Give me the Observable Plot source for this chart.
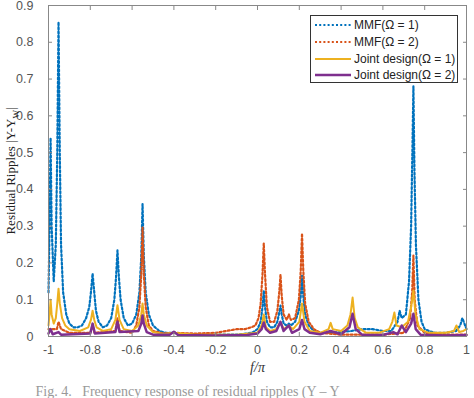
<!DOCTYPE html>
<html>
<head>
<meta charset="utf-8">
<script src="https://cdn.jsdelivr.net/npm/d3@7"></script>
<script src="https://cdn.jsdelivr.net/npm/@observablehq/plot@0.6"></script>
<style>
  html, body { margin: 0; padding: 0; background: #fff; }
  #wrap { position: relative; width: 474px; height: 398px; overflow: hidden; }
  #legend { position: absolute; left: 310px; top: 15px; width: 146px; height: 66px;
    border: 1px solid #333; background: #fff; font-family: Arial, "Liberation Sans", sans-serif;
    font-size: 12px; color: #222; }
  .row { position: absolute; left: 0; height: 16px; display: flex; align-items: center; }
  .row svg { margin-left: 3px; margin-right: 2px; }
</style>
</head>
<body>
<div id="wrap"><div id="chart"></div><div id="legend"></div></div>
<script>
// ---- data ----
const seriesNames = ["MMF(\u03a9 = 1)", "MMF(\u03a9 = 2)", "Joint design(\u03a9 = 1)", "Joint design(\u03a9 = 2)"];
const seriesColors = ["#0072BD", "#D95319", "#EDB120", "#7E2F8E"];

const mmf1X = [-1, -0.995, -0.99, -0.985, -0.975, -0.965, -0.958, -0.952, -0.946, -0.94, -0.93, -0.915, -0.9, -0.88, -0.86, -0.84, -0.82, -0.805, -0.797, -0.789, -0.781, -0.773, -0.76, -0.74, -0.72, -0.70, -0.685, -0.677, -0.67, -0.663, -0.655, -0.64, -0.62, -0.60, -0.58, -0.565, -0.556, -0.55, -0.544, -0.535, -0.52, -0.5, -0.47, -0.44, -0.41, -0.4, -0.39, -0.35, -0.3, -0.25, -0.2, -0.15, -0.1, -0.05, -0.02, 0, 0.015, 0.024, 0.03, 0.036, 0.045, 0.06, 0.08, 0.095, 0.104, 0.11, 0.116, 0.125, 0.14, 0.15, 0.16, 0.18, 0.198, 0.207, 0.213, 0.219, 0.228, 0.245, 0.27, 0.3, 0.35, 0.4, 0.45, 0.5, 0.55, 0.6, 0.64, 0.67, 0.68, 0.69, 0.71, 0.725, 0.735, 0.741, 0.746, 0.751, 0.758, 0.77, 0.785, 0.8, 0.82, 0.85, 0.9, 0.95, 0.97, 0.98, 0.99, 1];
const mmf1Y = [0.12, 0.3, 0.54, 0.3, 0.15, 0.25, 0.5, 0.855, 0.5, 0.25, 0.12, 0.06, 0.035, 0.025, 0.025, 0.03, 0.05, 0.08, 0.12, 0.171, 0.12, 0.07, 0.04, 0.025, 0.03, 0.05, 0.1, 0.16, 0.234, 0.16, 0.1, 0.05, 0.03, 0.035, 0.06, 0.12, 0.22, 0.36, 0.22, 0.12, 0.06, 0.03, 0.015, 0.01, 0.01, 0.012, 0.008, 0.006, 0.006, 0.005, 0.005, 0.005, 0.005, 0.008, 0.012, 0.02, 0.04, 0.08, 0.125, 0.08, 0.04, 0.025, 0.025, 0.04, 0.065, 0.084, 0.06, 0.035, 0.03, 0.035, 0.03, 0.04, 0.07, 0.11, 0.165, 0.11, 0.06, 0.03, 0.015, 0.01, 0.01, 0.012, 0.015, 0.02, 0.02, 0.015, 0.015, 0.04, 0.07, 0.05, 0.06, 0.15, 0.3, 0.5, 0.68, 0.45, 0.25, 0.1, 0.04, 0.02, 0.015, 0.01, 0.01, 0.015, 0.03, 0.05, 0.035, 0.02];

const mmf2X = [-1, -0.96, -0.952, -0.94, -0.9, -0.8, -0.789, -0.78, -0.68, -0.67, -0.66, -0.6, -0.58, -0.565, -0.556, -0.55, -0.544, -0.535, -0.52, -0.5, -0.45, -0.4, -0.3, -0.2, -0.15, -0.1, -0.06, -0.03, -0.01, 0.005, 0.015, 0.024, 0.03, 0.036, 0.045, 0.06, 0.08, 0.095, 0.104, 0.11, 0.116, 0.125, 0.14, 0.15, 0.16, 0.18, 0.198, 0.207, 0.213, 0.219, 0.228, 0.245, 0.27, 0.3, 0.4, 0.5, 0.6, 0.7, 0.73, 0.74, 0.746, 0.752, 0.765, 0.8, 0.9, 1];
const mmf2Y = [0.02, 0.02, 0.04, 0.02, 0.01, 0.01, 0.03, 0.01, 0.015, 0.05, 0.015, 0.01, 0.03, 0.08, 0.17, 0.296, 0.17, 0.08, 0.03, 0.015, 0.008, 0.01, 0.008, 0.01, 0.015, 0.02, 0.02, 0.025, 0.03, 0.05, 0.09, 0.17, 0.253, 0.17, 0.08, 0.04, 0.04, 0.07, 0.12, 0.168, 0.11, 0.06, 0.045, 0.06, 0.045, 0.05, 0.1, 0.18, 0.28, 0.18, 0.09, 0.04, 0.02, 0.01, 0.005, 0.005, 0.005, 0.01, 0.05, 0.12, 0.22, 0.1, 0.03, 0.01, 0.005, 0.005];

const joint1X = [-1, -0.995, -0.99, -0.985, -0.975, -0.965, -0.958, -0.952, -0.946, -0.935, -0.92, -0.9, -0.85, -0.81, -0.797, -0.789, -0.781, -0.77, -0.74, -0.7, -0.68, -0.67, -0.66, -0.64, -0.6, -0.57, -0.556, -0.55, -0.544, -0.53, -0.5, -0.45, -0.4, -0.3, -0.1, 0, 0.02, 0.03, 0.04, 0.06, 0.09, 0.11, 0.125, 0.15, 0.17, 0.2, 0.213, 0.225, 0.25, 0.3, 0.34, 0.35, 0.36, 0.4, 0.43, 0.445, 0.455, 0.465, 0.48, 0.52, 0.58, 0.63, 0.645, 0.655, 0.665, 0.69, 0.72, 0.735, 0.746, 0.756, 0.775, 0.82, 0.9, 0.94, 0.952, 0.965, 0.985, 1];
const joint1Y = [0.03, 0.06, 0.10, 0.06, 0.035, 0.05, 0.09, 0.13, 0.09, 0.05, 0.03, 0.02, 0.015, 0.025, 0.045, 0.07, 0.045, 0.025, 0.015, 0.02, 0.045, 0.085, 0.045, 0.02, 0.015, 0.03, 0.06, 0.09, 0.06, 0.03, 0.012, 0.007, 0.01, 0.005, 0.005, 0.01, 0.03, 0.06, 0.025, 0.015, 0.02, 0.04, 0.02, 0.03, 0.02, 0.04, 0.09, 0.04, 0.015, 0.01, 0.02, 0.037, 0.02, 0.015, 0.03, 0.06, 0.106, 0.05, 0.025, 0.01, 0.01, 0.02, 0.04, 0.065, 0.03, 0.025, 0.04, 0.08, 0.125, 0.06, 0.02, 0.01, 0.01, 0.015, 0.03, 0.012, 0.015, 0.02];

const joint2X = [-1, -0.99, -0.98, -0.952, -0.94, -0.8, -0.789, -0.778, -0.68, -0.67, -0.66, -0.57, -0.556, -0.55, -0.544, -0.53, -0.5, -0.42, -0.4, -0.38, -0.2, -0.05, 0, 0.02, 0.03, 0.04, 0.06, 0.09, 0.11, 0.125, 0.15, 0.165, 0.2, 0.213, 0.225, 0.25, 0.3, 0.35, 0.4, 0.44, 0.455, 0.47, 0.5, 0.6, 0.65, 0.67, 0.69, 0.71, 0.735, 0.746, 0.757, 0.78, 0.9, 1];
const joint2Y = [0.008, 0.02, 0.006, 0.012, 0.005, 0.008, 0.035, 0.008, 0.012, 0.04, 0.012, 0.015, 0.035, 0.057, 0.035, 0.012, 0.005, 0.005, 0.013, 0.004, 0.003, 0.004, 0.008, 0.02, 0.038, 0.02, 0.01, 0.015, 0.04, 0.015, 0.03, 0.01, 0.02, 0.045, 0.02, 0.01, 0.006, 0.015, 0.006, 0.025, 0.062, 0.02, 0.005, 0.004, 0.012, 0.006, 0.03, 0.012, 0.035, 0.062, 0.02, 0.005, 0.003, 0.004];

const xTicks = [-1, -0.8, -0.6, -0.4, -0.2, 0, 0.2, 0.4, 0.6, 0.8, 1];
const yTicks = [0, 0.1, 0.2, 0.3, 0.4, 0.5, 0.6, 0.7, 0.8, 0.9];
const xLabel = "f/\u03c0";
const yLabel = "Residual Ripples |Y-Y";
const yLabelSub = "W";
const caption = "Fig. 4.   Frequency response of residual ripples (Y \u2013 Y";

// ---- build tables ----
const xs = [mmf1X, mmf2X, joint1X, joint2X];
const ys = [mmf1Y, mmf2Y, joint1Y, joint2Y];
const tables = xs.map((arr, i) => arr.map((x, j) => ({x, y: ys[i][j], s: seriesNames[i]})));

const fmt = d => String(+d.toFixed(1));
const tickColor = "#555";

const lineStyles = [
  {strokeWidth: 2.2, strokeDasharray: "2,2.2"},
  {strokeWidth: 2.2, strokeDasharray: "2,2.2"},
  {strokeWidth: 2},
  {strokeWidth: 2.5}
];

const plot = Plot.plot({
  width: 474,
  height: 398,
  marginLeft: 48,
  marginRight: 8,
  marginTop: 5,
  marginBottom: 62,
  style: {fontFamily: "Arial, 'Liberation Sans', sans-serif", background: "#fff"},
  x: {domain: [-1, 1]},
  y: {domain: [0, 0.9]},
  marks: [
    ...tables.map((t, i) => Plot.line(t, {x: "x", y: "y", stroke: seriesColors[i], strokeLinejoin: "round", ...lineStyles[i]})),
    Plot.frame({stroke: "#888", strokeWidth: 1}),
    Plot.axisX(xTicks, {anchor: "bottom", tickSize: -4, tickPadding: 13, tickFormat: fmt, stroke: "#888", fill: tickColor, fontSize: 12.5, label: null}),
    Plot.axisX(xTicks, {anchor: "top", tickSize: -4, tickFormat: () => "", stroke: "#888", label: null}),
    Plot.axisY(yTicks, {anchor: "left", tickSize: -4, tickPadding: 19, tickFormat: fmt, stroke: "#888", fill: tickColor, fontSize: 12.5, label: null}),
    Plot.axisY(yTicks, {anchor: "right", tickSize: -4, tickFormat: () => "", stroke: "#888", label: null}),
    Plot.text([xLabel], {frameAnchor: "bottom", dy: 35, text: d => d, fontFamily: "'Liberation Serif', 'DejaVu Serif', serif", fontStyle: "italic", fontSize: 14, fill: "#333"}),
    Plot.text([yLabel], {frameAnchor: "left", dx: -38, rotate: -90, textAnchor: "middle", text: d => d, fontFamily: "'Liberation Serif', 'DejaVu Serif', serif", fontSize: 13, fill: "#222"}),
    Plot.text([caption], {frameAnchor: "bottom-left", dx: -13, dy: 59, textAnchor: "start", lineAnchor: "bottom", text: d => d, fontFamily: "'Liberation Serif', 'DejaVu Serif', serif", fontSize: 14, fill: "#999"})
  ]
});

// subscript for the y label
plot.querySelectorAll("text").forEach(t => {
  if (t.textContent === yLabel) {
    t.textContent = "";
    const a = document.createElementNS("http://www.w3.org/2000/svg", "tspan");
    a.textContent = yLabel;
    const b = document.createElementNS("http://www.w3.org/2000/svg", "tspan");
    b.textContent = yLabelSub;
    b.setAttribute("font-size", "9");
    b.setAttribute("dy", "4");
    const c = document.createElementNS("http://www.w3.org/2000/svg", "tspan");
    c.textContent = "|";
    c.setAttribute("dy", "-4");
    t.append(a, b, c);
  }
});

document.getElementById("chart").append(plot);

// legend
const legend = document.getElementById("legend");
const rowTops = [1, 18, 35, 51];
seriesNames.forEach((name, i) => {
  const row = document.createElement("div");
  row.className = "row";
  row.style.top = rowTops[i] + "px";
  const st = lineStyles[i];
  row.innerHTML = `<svg width="38" height="16"><line x1="1" x2="37" y1="8" y2="8" stroke="${seriesColors[i]}" stroke-width="${st.strokeWidth}" ${st.strokeDasharray ? `stroke-dasharray="${st.strokeDasharray}"` : ""}/></svg><span>${name}</span>`;
  legend.append(row);
});
</script>
</body>
</html>
